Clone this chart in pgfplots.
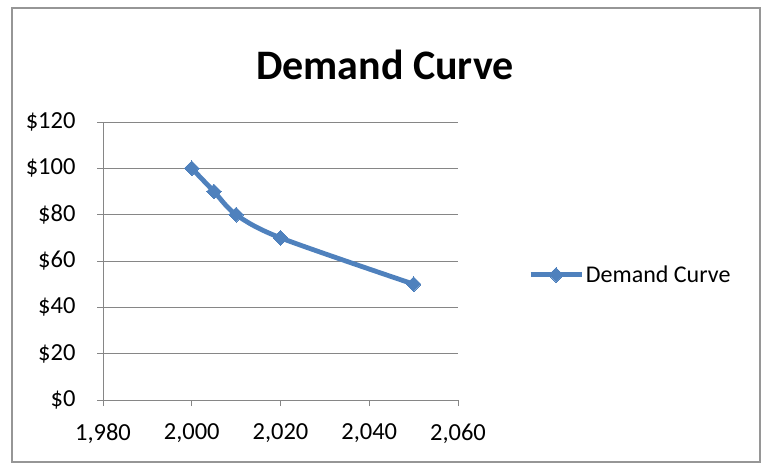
\documentclass[border=0pt]{standalone}
\usepackage{fontspec}
\setmainfont{Carlito}
\usepackage{pgfplots}
\pgfplotsset{compat=1.18}
\definecolor{exblue}{HTML}{4F81BD}
\definecolor{gridgray}{HTML}{868686}
\definecolor{framegray}{HTML}{969696}
\begin{document}
\begin{tikzpicture}[x=1pt,y=1pt]
\path (0,0) rectangle (768,471);
\draw[framegray, line width=1.3pt] (12,9) rectangle (760,463);
\node[font=\fontsize{42}{50}\selectfont\bfseries] at (385,406) {Demand Curve};
\begin{axis}[
  at={(103pt,71pt)}, anchor=south west,
  scale only axis, width=355pt, height=278pt,
  xmin=1980, xmax=2060, ymin=0, ymax=120,
  xtick={1980,2000,...,2060}, ytick={0,20,...,120},
  axis x line*=bottom, axis y line*=left,
  axis line style={gridgray, line width=0.9pt},
  ymajorgrids, grid style={gridgray, line width=0.9pt},
  tick align=outside, major tick length=6pt,
  tick style={gridgray, line width=0.9pt},
  ticklabel style={font=\fontsize{24.5}{28}\selectfont},
  yticklabel style={xshift=-18pt},
  xticklabel style={yshift=-14pt},
  /pgf/number format/.cd, 1000 sep={,}, assume math mode=true,
  /pgfplots/.cd,
  yticklabel={\$\pgfmathprintnumber{\tick}},
  legend style={at={(1.197,0.45)}, anchor=west, draw=none, fill=none,
    inner sep=0pt, font=\fontsize{24}{28}\selectfont},
  legend image code/.code={\draw[mark repeat=2,mark phase=2,#1] plot coordinates {(0pt,0pt) (25.5pt,0pt) (51pt,0pt)};},
]
\addplot[exblue, line width=4.8pt, smooth, mark=square*, mark size=5.2pt,
  mark options={rotate=45, line width=0pt, fill=exblue}]
  coordinates {(2000,100) (2005,90) (2010,80) (2020,70) (2050,50)};
\addlegendentry{Demand Curve}
\end{axis}
\end{tikzpicture}
\end{document}
